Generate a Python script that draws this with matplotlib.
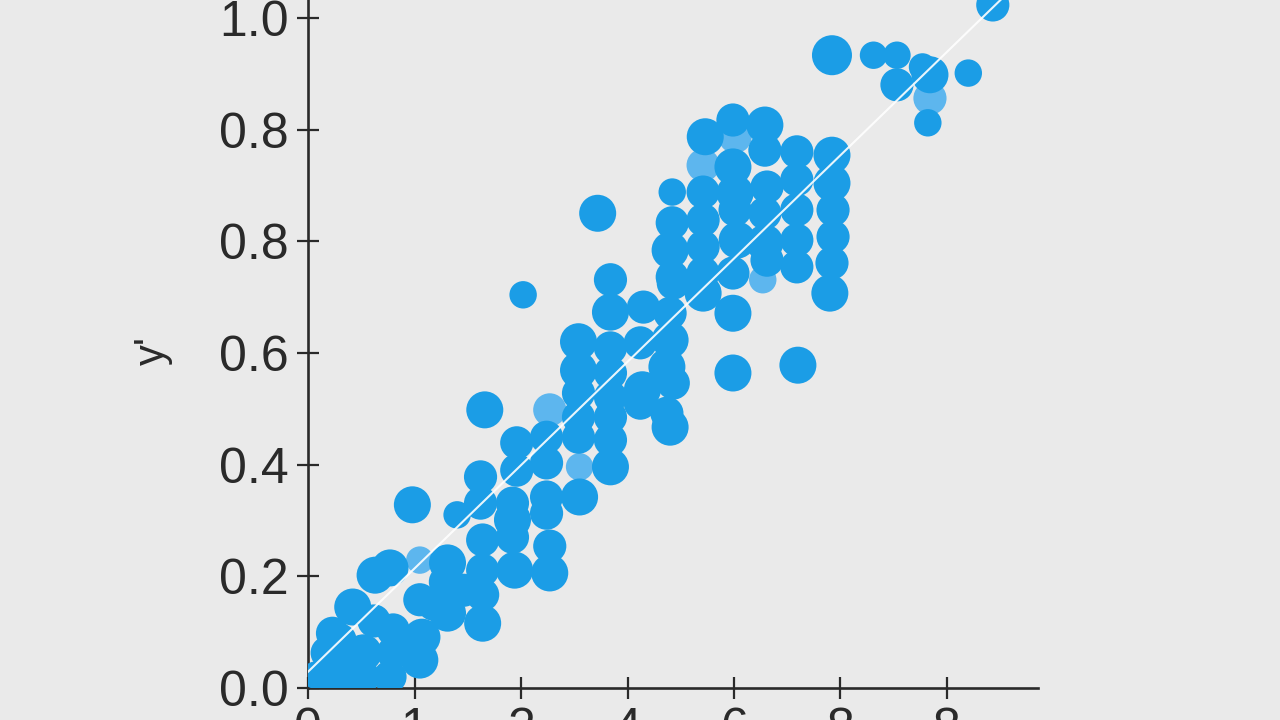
import matplotlib
matplotlib.use("Agg")
import matplotlib.pyplot as plt
import numpy as np

# values (y in axis units, ticks are labelled oddly)
x_main = [6.43, 4.92, 5.31, 5.53, 5.53, 5.84, 5.77, 6.20, 5.82,
          3.73, 3.99, 4.29, 3.99, 4.29, 4.59, 4.92, 3.42, 3.71, 4.01, 4.31,
          4.59, 4.92, 3.42, 3.71, 4.01, 4.29, 4.59, 4.93, 3.40, 3.71, 4.03,
          4.29, 4.59, 4.93, 3.42, 3.71, 3.99, 4.59, 4.92, 4.31, 3.71, 3.99,
          4.90, 3.40, 3.40, 3.37, 3.99, 4.60,
          2.72, 2.02, 2.84, 2.84, 3.15, 3.43, 3.68, 2.54, 2.84, 3.12, 2.54,
          2.84, 3.14, 3.43, 2.54, 2.84, 1.66, 2.54, 2.84, 3.12, 3.40, 1.96,
          2.24, 2.54, 2.84, 3.37, 1.62, 1.96, 2.24, 2.84, 1.92, 2.24, 2.55,
          1.62,
          0.98, 1.40, 1.92, 2.24, 0.63, 0.77, 1.31, 1.64, 1.94, 2.27, 1.31,
          1.64, 0.42, 0.23, 0.80, 1.07, 0.18, 0.52, 0.80, 1.05, 0.18, 0.52,
          0.77, 1.64, 1.92, 2.27, 1.64, 1.46, 1.29, 1.05, 0.39, 0.07, 0.30,
          1.18, 0.62, 0.35]
y_main = [1.223, 1.133, 1.133, 1.133, 1.080, 1.098, 1.112, 1.101, 1.012,
          0.987, 1.017, 1.008, 0.933, 0.963, 0.960, 0.954, 0.888, 0.888, 0.886, 0.897,
          0.910, 0.904, 0.833, 0.838, 0.856, 0.850, 0.856, 0.856, 0.784, 0.790, 0.802,
          0.797, 0.802, 0.808, 0.736, 0.743, 0.743, 0.754, 0.761, 0.766, 0.707, 0.671,
          0.707, 0.671, 0.623, 0.575, 0.564, 0.578,
          0.850, 0.704, 0.731, 0.673, 0.682, 0.725, 0.704, 0.620, 0.609, 0.618, 0.569,
          0.564, 0.534, 0.546, 0.528, 0.521, 0.498, 0.485, 0.485, 0.510, 0.467, 0.439,
          0.449, 0.449, 0.444, 0.492, 0.378, 0.390, 0.403, 0.396, 0.331, 0.342, 0.342,
          0.331,
          0.328, 0.310, 0.301, 0.313, 0.202, 0.215, 0.224, 0.211, 0.211, 0.206, 0.134,
          0.116, 0.145, 0.098, 0.104, 0.091, 0.063, 0.063, 0.063, 0.050, 0.020, 0.020,
          0.020, 0.265, 0.270, 0.254, 0.167, 0.175, 0.190, 0.158, 0.005, 0.023, 0.086,
          0.150, 0.120, 0.030]
w_main = [2, 4, 1, 1, 2, 3, 1, 1, 1,
          3, 2, 3, 3, 2, 2, 3, 1, 2, 3, 2,
          2, 3, 2, 2, 2, 2, 2, 2, 3, 2, 3,
          3, 2, 2, 2, 2, 2, 2, 2, 2, 3, 3,
          3, 2, 3, 3, 3, 3,
          3, 1, 2, 3, 2, 2, 1, 3, 2, 2, 3,
          2, 3, 2, 2, 2, 3, 2, 2, 2, 3, 2,
          2, 2, 2, 2, 2, 2, 2, 3, 2, 2, 3,
          2,
          3, 1, 3, 2, 3, 3, 3, 2, 3, 3, 3,
          3, 3, 2, 2, 3, 2, 3, 2, 3, 2, 2,
          2, 2, 2, 2, 2, 2, 2, 2, 2, 1, 2,
          2, 2, 2]

x_faint = [5.84, 3.71, 4.01, 4.27, 2.27, 2.55, 1.05]
y_faint = [1.056, 0.936, 0.987, 0.731, 0.498, 0.396, 0.229]
w_faint = [2, 2, 2, 1, 2, 1, 1]

fit_slope = 0.185
fit_icpt = 0.029

x_ticks = [0, 1, 2, 3, 4, 5, 6]
x_ticklabels = ["0", "1", "2", "4", "6", "8", "8"]
y_ticks = [0, 0.2, 0.4, 0.6, 0.8, 1.0, 1.2]
y_ticklabels = ["0.0", "0.2", "0.4", "0.6", "0.8", "0.8", "1.0"]

BG = "#eaeaea"
BLUE = "#1b9de6"
LIGHT = "#5db6ee"
INK = "#2a2a2a"
sizes = {1: 390, 2: 570, 3: 710, 4: 830}

plt.rcParams['font.family'] = ['Liberation Sans', 'DejaVu Sans']

fig = plt.figure(figsize=(12.8, 7.2), dpi=100, facecolor=BG)
ax = fig.add_axes([308 / 1280, 32 / 720, 730 / 1280, 688 / 720], facecolor=BG)

ax.scatter(x_faint, y_faint, s=[sizes[w] for w in w_faint], color=LIGHT,
           linewidths=0, zorder=2)
ax.scatter(x_main, y_main, s=[sizes[w] for w in w_main], color=BLUE,
           linewidths=0, zorder=3)

xl = np.array([0, 7.0])
ax.plot(xl, fit_icpt + fit_slope * xl, color="white", lw=1.5, alpha=0.9, zorder=4)

ax.set_xlim(0, 730 / 106.5)
ax.set_ylim(0, 688 / 558.5)

for side in ["top", "right"]:
    ax.spines[side].set_visible(False)
for side in ["left", "bottom"]:
    ax.spines[side].set_color(INK)
    ax.spines[side].set_linewidth(1.9)

ax.set_xticks(x_ticks)
ax.set_xticklabels(x_ticklabels)
ax.set_yticks(y_ticks)
ax.set_yticklabels(y_ticklabels)
ax.tick_params(direction="inout", length=16, width=1.6, color=INK,
               labelsize=36, labelcolor=INK, pad=6)

ax.set_ylabel("y'", fontsize=30, color=INK)
ax.yaxis.set_label_coords(-0.185, 0.49)

fig.savefig("out.png", dpi=100, facecolor=BG)
